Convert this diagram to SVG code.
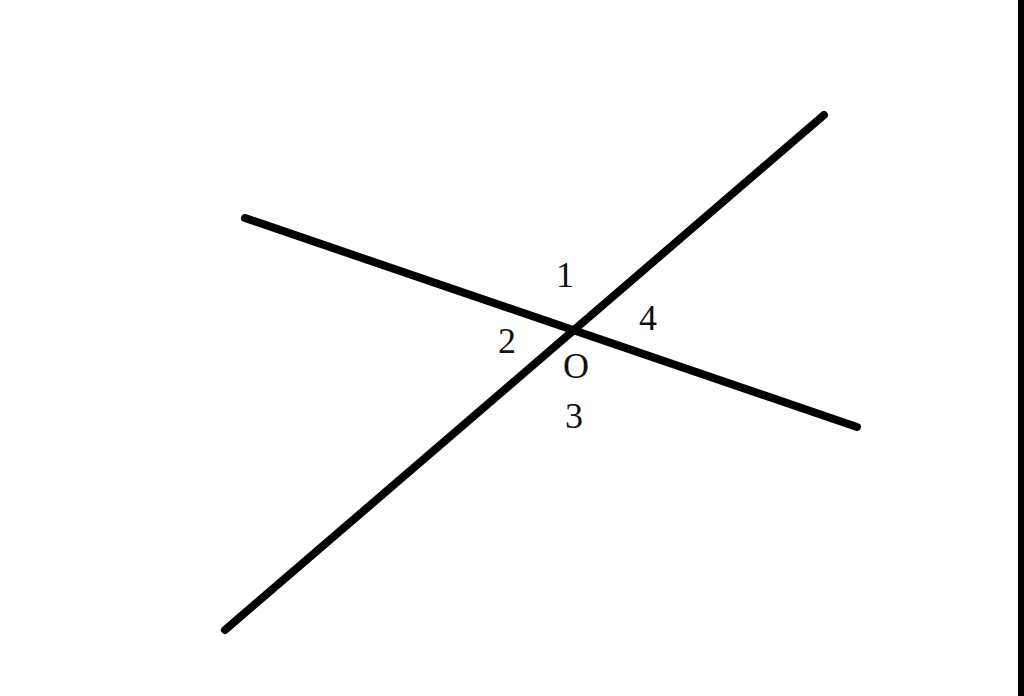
<svg xmlns="http://www.w3.org/2000/svg" width="1024" height="696" viewBox="0 0 1024 696">
<style>
.ln{stroke:#000;stroke-width:8;stroke-linecap:round;fill:none}
.lb{font-family:"Liberation Serif","Times New Roman",serif;font-size:36px;fill:#111;text-anchor:middle}
</style>
<rect width="1024" height="696" fill="#fff"/>
<rect x="1018" y="0" width="6" height="696" fill="#000"/>
<g id="connectors">
<line class="ln" x1="245" y1="218" x2="857" y2="427"/>
<line class="ln" x1="225" y1="630" x2="824" y2="115"/>
</g>
<g id="labels">
<text class="lb" x="565" y="287">1</text>
<text class="lb" x="507" y="353">2</text>
<text class="lb" x="648" y="330">4</text>
<text class="lb" x="576" y="378">O</text>
<text class="lb" x="574" y="428">3</text>
</g>
</svg>
